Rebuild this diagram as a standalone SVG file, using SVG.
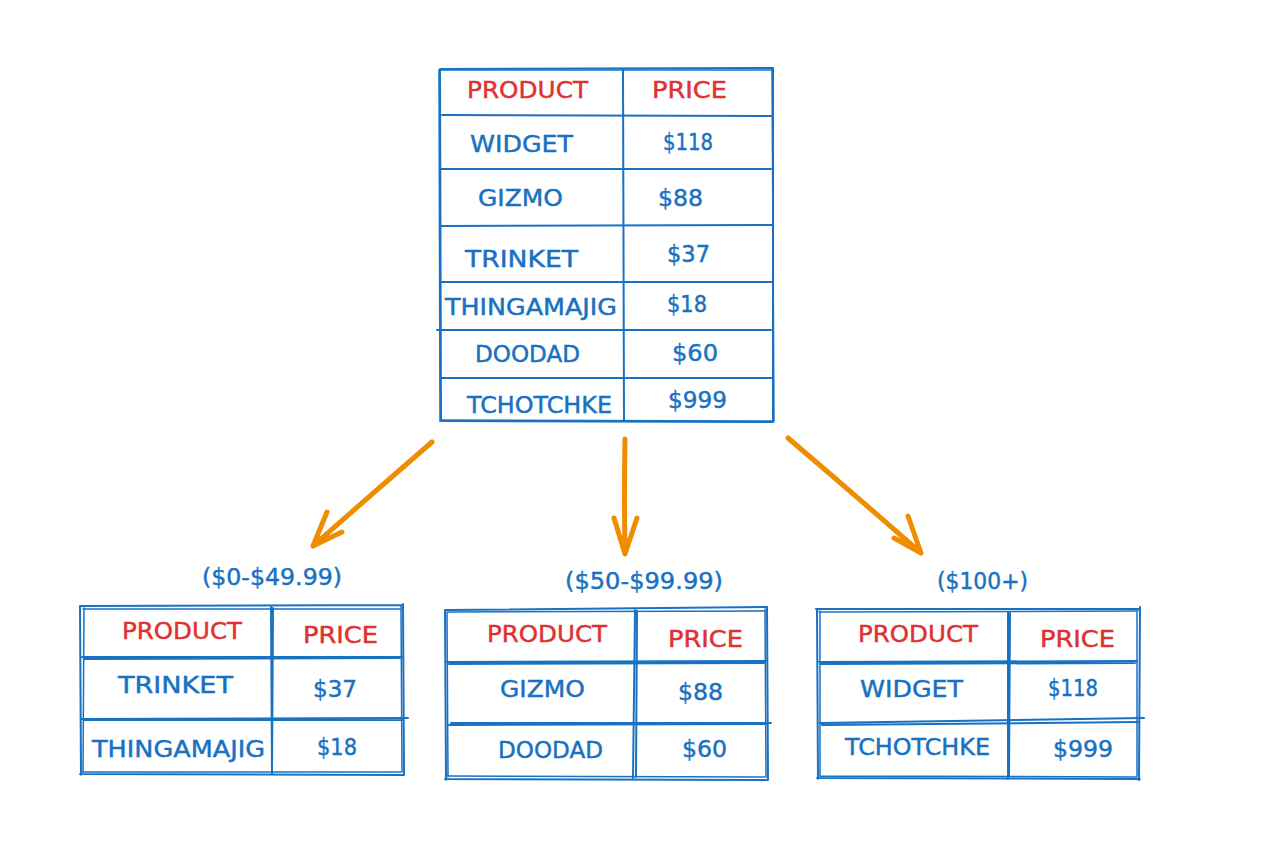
<svg xmlns="http://www.w3.org/2000/svg" width="1280" height="859" viewBox="0 0 1280 859">
<style>
.ln{fill:none;stroke:#1971c2;stroke-width:2;stroke-linecap:round}
.ln2{fill:none;stroke:#1971c2;stroke-width:1.5;stroke-linecap:round}
.t{font-family:"DejaVu Sans","Liberation Sans",sans-serif;font-size:23px;fill:#1971c2;stroke:#1971c2;stroke-width:0.45}
.h{fill:#e03131;stroke:#e03131}
.arr{fill:none;stroke:#f08c00;stroke-width:5;stroke-linecap:round;stroke-linejoin:round}
</style>
<rect width="1280" height="859" fill="#ffffff"/>

<g id="table-all">
  <path class="ln" d="M440,69 L773,68 M773,68 L773,422 M440,421 L773,422 M440,69 L441,421"/>
  <path class="ln2" d="M441,70 L772,70 M772,69 L774,421 M441,420 L772,421 M439,70 L440,420"/>
  <path class="ln" d="M623,69 L624,421"/>
  <path class="ln" d="M442,115 L773,116 M440,169 L771,169 M440,226 L773,225 M440,282 L773,282 M437,330 L771,330 M440,378 L773,378"/>
  <text class="t h" x="467" y="98" textLength="121" lengthAdjust="spacingAndGlyphs">PRODUCT</text>
  <text class="t h" x="652" y="98" textLength="75" lengthAdjust="spacingAndGlyphs">PRICE</text>
  <text class="t" x="470" y="152" textLength="103" lengthAdjust="spacingAndGlyphs">WIDGET</text>
  <text class="t" x="663" y="150" textLength="50" lengthAdjust="spacingAndGlyphs">$118</text>
  <text class="t" x="478" y="206" textLength="85" lengthAdjust="spacingAndGlyphs">GIZMO</text>
  <text class="t" x="658" y="206" textLength="45" lengthAdjust="spacingAndGlyphs">$88</text>
  <text class="t" x="465" y="267" textLength="113" lengthAdjust="spacingAndGlyphs">TRINKET</text>
  <text class="t" x="667" y="262" textLength="43" lengthAdjust="spacingAndGlyphs">$37</text>
  <text class="t" x="445" y="315" textLength="172" lengthAdjust="spacingAndGlyphs">THINGAMAJIG</text>
  <text class="t" x="667" y="312" textLength="40" lengthAdjust="spacingAndGlyphs">$18</text>
  <text class="t" x="475" y="362" textLength="105" lengthAdjust="spacingAndGlyphs">DOODAD</text>
  <text class="t" x="672" y="361" textLength="46" lengthAdjust="spacingAndGlyphs">$60</text>
  <text class="t" x="467" y="413" textLength="145" lengthAdjust="spacingAndGlyphs">TCHOTCHKE</text>
  <text class="t" x="668" y="408" textLength="59" lengthAdjust="spacingAndGlyphs">$999</text>
</g>

<g id="label-low">
  <text class="t" x="202" y="585" textLength="140" lengthAdjust="spacingAndGlyphs">($0-$49.99)</text>
</g>
<g id="table-low">
  <path class="ln" d="M80,606 L403,605 M403,604 L404,775 M80,774 L404,775 M80,606 L81,775"/>
  <path class="ln2" d="M83,609 L400,609 M401,606 L402,772 M82,772 L401,772 M84,608 L83,772"/>
  <path class="ln" d="M271,607 L272,774 M273,608 L272,773"/>
  <path class="ln" d="M82,657 L402,657 M84,659 L400,658 M82,719 L408,718 M84,720 L402,720"/>
  <text class="t h" x="122" y="639" textLength="120" lengthAdjust="spacingAndGlyphs">PRODUCT</text>
  <text class="t h" x="303" y="643" textLength="75" lengthAdjust="spacingAndGlyphs">PRICE</text>
  <text class="t" x="118" y="693" textLength="115" lengthAdjust="spacingAndGlyphs">TRINKET</text>
  <text class="t" x="313" y="697" textLength="44" lengthAdjust="spacingAndGlyphs">$37</text>
  <text class="t" x="92" y="757" textLength="173" lengthAdjust="spacingAndGlyphs">THINGAMAJIG</text>
  <text class="t" x="317" y="755" textLength="40" lengthAdjust="spacingAndGlyphs">$18</text>
</g>

<g id="label-mid">
  <text class="t" x="565" y="589" textLength="158" lengthAdjust="spacingAndGlyphs">($50-$99.99)</text>
</g>
<g id="table-mid">
  <path class="ln" d="M445,610 L767,607 M767,607 L768,780 M445,779 L768,780 M445,610 L446,780"/>
  <path class="ln2" d="M448,612 L765,611 M765,609 L766,777 M447,776 L766,777 M447,612 L448,777"/>
  <path class="ln" d="M635,610 L633,778 M637,611 L636,777"/>
  <path class="ln" d="M447,662 L766,661 M449,664 L764,663 M451,723 L771,723 M449,725 L766,724"/>
  <text class="t h" x="487" y="642" textLength="120" lengthAdjust="spacingAndGlyphs">PRODUCT</text>
  <text class="t h" x="668" y="647" textLength="75" lengthAdjust="spacingAndGlyphs">PRICE</text>
  <text class="t" x="500" y="697" textLength="85" lengthAdjust="spacingAndGlyphs">GIZMO</text>
  <text class="t" x="678" y="700" textLength="45" lengthAdjust="spacingAndGlyphs">$88</text>
  <text class="t" x="498" y="758" textLength="105" lengthAdjust="spacingAndGlyphs">DOODAD</text>
  <text class="t" x="682" y="757" textLength="45" lengthAdjust="spacingAndGlyphs">$60</text>
</g>

<g id="label-high">
  <text class="t" x="937" y="589" textLength="91" lengthAdjust="spacingAndGlyphs">($100+)</text>
</g>
<g id="table-high">
  <path class="ln" d="M816,609 L1140,609 M1140,607 L1139,780 M817,778 L1140,779 M817,610 L818,779"/>
  <path class="ln2" d="M819,612 L1138,611 M1137,611 L1137,776 M820,776 L1137,777 M820,611 L820,777"/>
  <path class="ln" d="M1008,612 L1008,779 M1010,613 L1009,776"/>
  <path class="ln" d="M819,662 L1137,661 M821,664 L1135,663 M820,723 L1144,718 M822,725 L1139,722"/>
  <text class="t h" x="858" y="642" textLength="120" lengthAdjust="spacingAndGlyphs">PRODUCT</text>
  <text class="t h" x="1040" y="647" textLength="75" lengthAdjust="spacingAndGlyphs">PRICE</text>
  <text class="t" x="860" y="697" textLength="103" lengthAdjust="spacingAndGlyphs">WIDGET</text>
  <text class="t" x="1048" y="696" textLength="50" lengthAdjust="spacingAndGlyphs">$118</text>
  <text class="t" x="845" y="755" textLength="145" lengthAdjust="spacingAndGlyphs">TCHOTCHKE</text>
  <text class="t" x="1053" y="757" textLength="60" lengthAdjust="spacingAndGlyphs">$999</text>
</g>

<g id="connectors">
  <path class="arr" d="M432,442 Q372,494 313,546 M327,512 L313,546 L342,532"/>
  <path class="arr" d="M625,439 Q624,497 625,554 M614,518 L625,554 L637,518"/>
  <path class="arr" d="M788,438 Q855,495 921,553 M908,516 L921,553 L894,538"/>
</g>
</svg>
